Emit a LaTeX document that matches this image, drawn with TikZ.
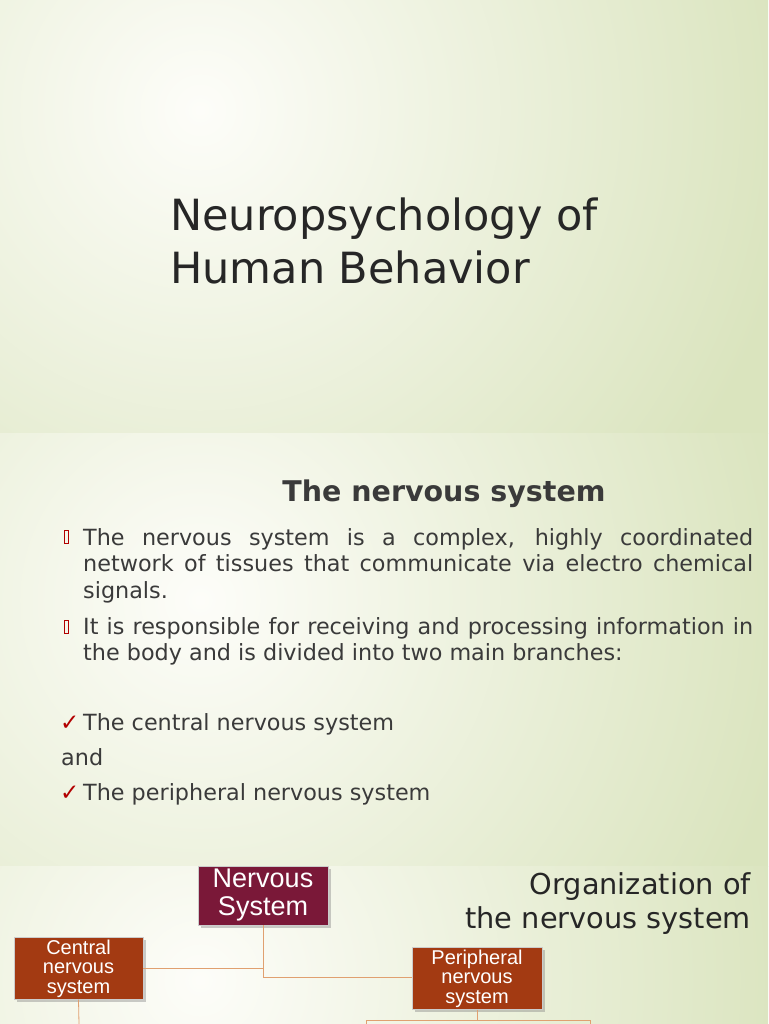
\documentclass[tikz,border=0pt]{standalone}
\usepackage{fontspec}
\setmainfont{DejaVu Sans}
\newfontfamily\arialf{Liberation Sans}
\usetikzlibrary{shadows}
\definecolor{bgA}{HTML}{DAE4BE}
\definecolor{bgL}{HTML}{FDFDF9}
\definecolor{txt}{HTML}{3A3A3A}
\definecolor{maroon}{HTML}{7A1838}
\definecolor{rust}{HTML}{A33A12}
\definecolor{lnc}{HTML}{E0A070}
\tikzset{
 box/.style={draw=white!80!black,line width=0.8pt,text=white,align=center,font=\arialf,inner sep=2pt,drop shadow={opacity=0.4}},
 lnk/.style={draw=lnc,line width=0.8pt},
 bul/.style={draw=red!70!black,line width=0.7pt,minimum width=4pt,minimum height=13pt,inner sep=0pt},
 bodytxt/.style={anchor=north west,text=txt,font=\fontsize{22.3}{26.5}\selectfont,inner sep=0pt},
 justtxt/.style={bodytxt,text width=670pt,align=justify,execute at begin node={\hyphenpenalty=10000\relax\exhyphenpenalty=10000\relax}},
 chk/.style={anchor=south west,text=red!70!black,font=\fontsize{23}{24}\selectfont,inner sep=0pt}
}
\begin{document}
\begin{tikzpicture}[x=1pt,y=-1pt]
\useasboundingbox (0,0) rectangle (768,1024);
% slide 1
\begin{scope}
\clip (0,0) rectangle (768,433);
\shade[inner color=bgL,outer color=bgA] (-400,-490) rectangle (800,710);
\end{scope}
\node[anchor=north west,align=left,text=black!85,font=\fontsize{43}{53}\selectfont,inner sep=0pt] (title) at (170,198) {Neuropsychology of\\Human Behavior};
% slide 2
\begin{scope}
\clip (0,433) rectangle (768,866);
\shade[inner color=bgL,outer color=bgA] (-400,0) rectangle (800,1200);
\end{scope}
\node[font=\bfseries\fontsize{28.5}{32}\selectfont,text=txt] (h2) at (444,494) {The nervous system};
\node[bul] (b1) at (66,537) {};
\node[justtxt] (p1) at (83,528) {The nervous system is a complex, highly coordinated network of tissues that communicate via electro chemical signals.};
\node[bul] (b2) at (66,627) {};
\node[justtxt] (p2) at (83,617) {It is responsible for receiving and processing information in the body and is divided into two main branches:};
\node[chk] (c1) at (60,731) {✓};
\node[bodytxt] (t1) at (83,713) {The central nervous system};
\node[bodytxt] (t2) at (61,748) {and};
\node[chk] (c2) at (60,801) {✓};
\node[bodytxt] (t3) at (83,783) {The peripheral nervous system};
% slide 3
\begin{scope}
\clip (0,866) rectangle (768,1024);
\shade[inner color=bgL,outer color=bgA] (-400,380) rectangle (800,1580);
\end{scope}
\node[anchor=north east,align=right,text=black!85,font=\fontsize{28.8}{34}\selectfont,inner sep=0pt] (h3) at (751,872) {Organization of\\the nervous system};
\node[box,fill=maroon,minimum width=130pt,minimum height=59pt,font=\arialf\fontsize{27}{28}\selectfont] (ns) at (263,895.5) {Nervous\\System};
\node[box,fill=rust,minimum width=129pt,minimum height=59pt,font=\arialf\fontsize{20}{19.5}\selectfont] (cns) at (78.5,968.5) {Central\\nervous\\system};
\node[box,fill=rust,minimum width=130pt,minimum height=59pt,font=\arialf\fontsize{20}{19.5}\selectfont] (pns) at (477,978.5) {Peripheral\\nervous\\system};
\coordinate (k1) at (263,968);
\coordinate (k2) at (263,977);
\coordinate (e1) at (79,1024);
\coordinate (j) at (477,1020);
\coordinate (jl) at (366,1020);
\coordinate (jr) at (590,1020);
\coordinate (jld) at (366,1024);
\coordinate (jrd) at (590,1024);
\draw[lnk] (ns.south) -- (k2) -- (pns.west |- k2);
\draw[lnk] (cns.east |- k1) -- (k1);
\draw[lnk] (cns.south) -- (e1);
\draw[lnk] (pns.south) -- (j);
\draw[lnk] (jld) -- (jl) -- (jr) -- (jrd);
\end{tikzpicture}
\end{document}
